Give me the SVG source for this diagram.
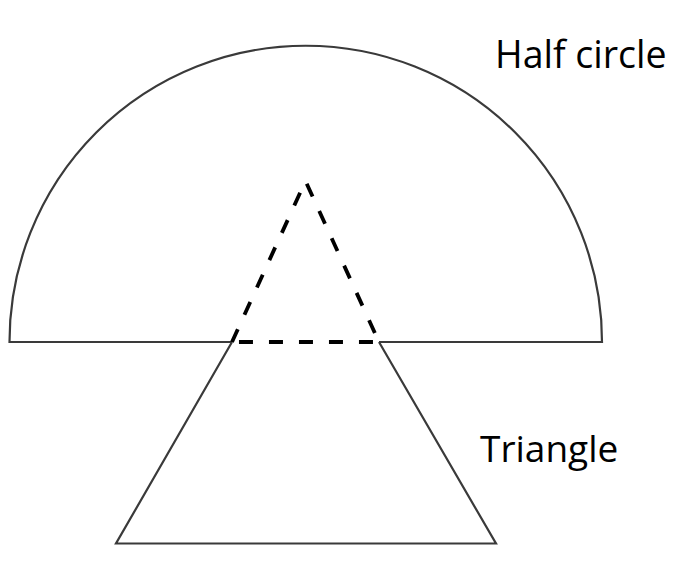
<svg xmlns="http://www.w3.org/2000/svg" width="680" height="572" viewBox="0 0 680 572">
<style>
.solid{fill:none;stroke:#3a3a3a;stroke-width:2.2;stroke-linejoin:miter}
.dash{fill:none;stroke:#000;stroke-width:3.8;stroke-dasharray:14 16}
.lbl{font-family:"Open Sans","Noto Sans",sans-serif;fill:#000}
</style>
<rect width="680" height="572" fill="#fff"/>
<g id="half-circle">
<path class="solid" d="M 232 342 L 9.5 342 A 296.25 296.25 0 0 1 602 342 L 379 342"/>
<text class="lbl" x="495" y="68" font-size="37.5">Half circle</text>
</g>
<g id="triangle">
<path class="solid" d="M 232 342 L 116 543.5 L 496 543.5 L 379 342"/>
<path class="dash" d="M 232 342 L 305.5 181 L 379 342 Z"/>
<text class="lbl" x="480" y="462" font-size="37">Triangle</text>
</g>
</svg>
